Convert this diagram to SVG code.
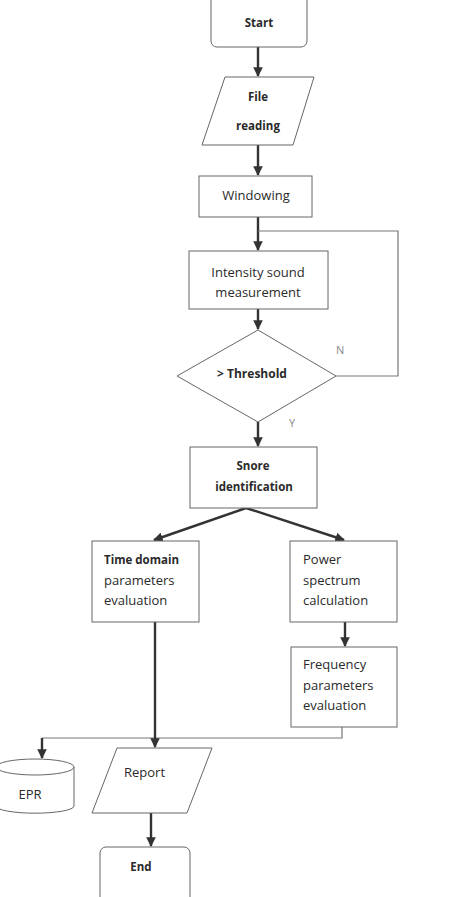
<svg xmlns="http://www.w3.org/2000/svg" width="474" height="897" viewBox="0 0 474 897">
<defs>
<marker id="ah" viewBox="0 0 10 10" refX="9" refY="5" markerWidth="4" markerHeight="4" orient="auto" markerUnits="strokeWidth">
<path d="M0,0 L10,5 L0,10 z" fill="#333"/>
</marker>
</defs>
<style>
.n{fill:#fff;stroke:#666;stroke-width:1}
.t{font-family:"Open Sans","DejaVu Sans",sans-serif;font-size:13px;fill:#2a2a2a}
.b{font-weight:bold;font-size:11.5px}
.c{text-anchor:middle}
.m{fill:none;stroke:#333;stroke-width:2.4}
.s{fill:none;stroke:#777;stroke-width:1.2}
.l{font-family:"Open Sans","DejaVu Sans",sans-serif;font-size:11px;fill:#888}
</style>
<rect width="474" height="897" fill="#fff"/>
<g id="connectors">
<path class="m" d="M258,47 V76" marker-end="url(#ah)"/>
<path class="m" d="M258,145 V175" marker-end="url(#ah)"/>
<path class="m" d="M258,217 V250" marker-end="url(#ah)"/>
<path class="s" d="M258,231 H398 V376 H336"/>
<path class="m" d="M258,309 V329" marker-end="url(#ah)"/>
<path class="m" d="M258,422 V446" marker-end="url(#ah)"/>
<path class="m" d="M246,508 L154,540" marker-end="url(#ah)"/>
<path class="m" d="M246,508 L344,540" marker-end="url(#ah)"/>
<path class="m" d="M345,622 V646" marker-end="url(#ah)"/>
<path class="s" d="M342,727 V738 H42"/>
<path class="m" d="M42,738 V758" marker-end="url(#ah)"/>
<path class="m" d="M155,622 V747" marker-end="url(#ah)"/>
<path class="m" d="M151,813 V846" marker-end="url(#ah)"/>
</g>
<g id="start">
<rect class="n" x="211" y="-6" width="96" height="53" rx="6"/>
<text class="t b c" x="259" y="27">Start</text>
</g>
<g id="file-reading">
<polygon class="n" points="225,77 314,77 293,145 202,145"/>
<text class="t b c" x="258" y="101">File</text>
<text class="t b c" x="258" y="130">reading</text>
</g>
<g id="windowing">
<rect class="n" x="199" y="176" width="113" height="41"/>
<text class="t c" x="256" y="200">Windowing</text>
</g>
<g id="intensity">
<rect class="n" x="189" y="251" width="139" height="58"/>
<text class="t c" x="258" y="277">Intensity sound</text>
<text class="t c" x="258" y="297">measurement</text>
</g>
<g id="threshold">
<polygon class="n" points="258,330 336,376 258,422 177,376"/>
<text class="t b c" x="252" y="378" style="font-size:12px">&gt; Threshold</text>
<text class="l" x="336" y="354">N</text>
<text class="l" x="289" y="427">Y</text>
</g>
<g id="snore">
<rect class="n" x="190" y="447" width="127" height="61"/>
<text class="t b c" x="253" y="470">Snore</text>
<text class="t b c" x="254" y="491">identification</text>
</g>
<g id="time-domain">
<rect class="n" x="92" y="541" width="107" height="81"/>
<text class="t b" x="104" y="564">Time domain</text>
<text class="t" x="104" y="585">parameters</text>
<text class="t" x="104" y="605">evaluation</text>
</g>
<g id="power-spectrum">
<rect class="n" x="290" y="541" width="107" height="81"/>
<text class="t" x="303" y="564">Power</text>
<text class="t" x="303" y="585">spectrum</text>
<text class="t" x="303" y="605">calculation</text>
</g>
<g id="frequency">
<rect class="n" x="291" y="647" width="106" height="80"/>
<text class="t" x="303" y="669">Frequency</text>
<text class="t" x="303" y="690">parameters</text>
<text class="t" x="303" y="710">evaluation</text>
</g>
<g id="epr">
<path class="n" d="M-4,767 V806 A38,7 0 0 0 74,806 V767"/>
<ellipse class="n" cx="35" cy="767" rx="39" ry="8"/>
<text class="t c" x="30" y="799">EPR</text>
</g>
<g id="report">
<polygon class="n" points="117,748 212,748 187,813 92,813"/>
<text class="t" x="124" y="777">Report</text>
</g>
<g id="end">
<rect class="n" x="100" y="847" width="90" height="60" rx="6"/>
<text class="t b c" x="141" y="871">End</text>
</g>
</svg>
